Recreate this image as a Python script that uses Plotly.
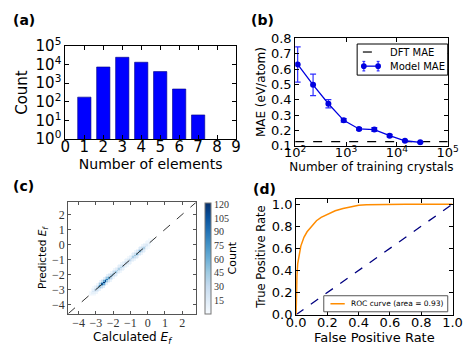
import plotly.graph_objects as go

W, H = 474, 350

# ---------------- data ----------------
# (a) histogram of number of elements
n_elements = [1, 2, 3, 4, 5, 6, 7]
element_counts = [180, 7400, 24500, 13300, 4200, 490, 20]
a_xticks = [0, 1, 2, 3, 4, 5, 6, 7, 8, 9]
a_ytick_vals = [1, 10, 100, 1000, 10000, 100000]
a_ytick_text = ["10<sup>0</sup>", "10<sup>1</sup>", "10<sup>2</sup>", "10<sup>3</sup>", "10<sup>4</sup>", "10<sup>5</sup>"]

# (b) learning curve
train_sizes = [112, 225, 450, 900, 1800, 3600, 7200, 14400, 28800]
model_mae = [0.63, 0.497, 0.374, 0.266, 0.21, 0.206, 0.166, 0.133, 0.123]
model_mae_err = [0.115, 0.07, 0.027, 0.012, 0.008, 0.012, 0.008, 0.005, 0.004]
dft_mae = 0.127
b_xlim = [100, 100000]
b_xtick_vals = [100, 1000, 10000, 100000]
b_xtick_text = ["10<sup>2</sup>", "10<sup>3</sup>", "10<sup>4</sup>", "10<sup>5</sup>"]
b_yticks = [0.1, 0.2, 0.3, 0.4, 0.5, 0.6, 0.7, 0.8]
b_legend_labels = ["DFT MAE", "Model MAE"]

# (c) parity 2D histogram (bin centres along the diagonal, width 0.1)
c_bins = [-3.35, -3.25, -3.15, -3.05, -2.95, -2.85, -2.75, -2.65, -2.55, -2.45,
          -2.35, -2.25, -2.15, -2.05, -1.95, -1.85, -1.75, -1.65, -1.55, -1.45,
          -1.35, -1.25, -1.15, -1.05, -0.95, -0.85, -0.75, -0.65, -0.55, -0.45,
          -0.35, -0.25, -0.15, -0.05, 0.05, 0.15, 0.25, 0.35]
c_diag = [5, 10, 18, 30, 45, 60, 80, 100, 120, 110, 85, 70, 60, 55, 50, 45, 42, 40, 38, 35,
          32, 30, 30, 32, 35, 40, 48, 55, 60, 58, 50, 40, 28, 18, 10, 5, 2, 1]
c_off1 = [3, 6, 10, 17, 25, 33, 44, 55, 62, 58, 47, 39, 33, 30, 28, 25, 23, 22, 21, 19,
          18, 17, 17, 18, 19, 22, 26, 30, 33, 32, 28, 22, 15, 10, 6, 3, 1, 0]
c_off2 = [1, 3, 5, 9, 13, 17, 23, 28, 32, 30, 25, 20, 17, 16, 15, 13, 12, 12, 11, 10,
          10, 9, 9, 10, 10, 12, 14, 16, 18, 17, 15, 12, 8, 5, 3, 1, 0, 0]
c_off3 = [0, 1, 2, 3, 5, 6, 8, 10, 12, 11, 9, 7, 6, 6, 5, 5, 5, 4, 4, 4,
          4, 3, 3, 4, 4, 5, 5, 6, 7, 6, 6, 5, 3, 2, 1, 0, 0, 0]
c_lim = [-4.6, 2.8]
c_ticks = [-4, -3, -2, -1, 0, 1, 2]
c_cbar_ticks = [15, 30, 45, 60, 75, 90, 105, 120]

# (d) ROC curve
fpr = [0.0, 0.002, 0.005, 0.01, 0.02, 0.03, 0.05, 0.07, 0.1, 0.13, 0.16, 0.2, 0.25, 0.3,
       0.35, 0.4, 0.45, 0.5, 0.6, 0.7, 0.8, 0.9, 1.0]
tpr = [0.0, 0.2, 0.35, 0.46, 0.55, 0.62, 0.7, 0.75, 0.8, 0.85, 0.88, 0.91, 0.94, 0.96,
       0.975, 0.99, 0.995, 0.997, 0.998, 0.999, 1.0, 1.0, 1.0]
chance = [0.0, 1.0]
d_ticks = [0.0, 0.2, 0.4, 0.6, 0.8, 1.0]
d_legend_label = "ROC curve (area = 0.93)"

# ---------------- layout helpers ----------------
def px_x(p):
    return p / W

def px_y(p):
    return 1 - p / H

SANS = "DejaVu Sans"
SERIF = "Liberation Serif"
BLUE = "#0000e0"
ORANGE = "darkorange"

fig = go.Figure()

# (a)
fig.add_trace(go.Bar(x=n_elements, y=element_counts, width=0.7,
                     marker=dict(color="#0000ff", line=dict(color="#000080", width=0.6)),
                     showlegend=False, xaxis="x", yaxis="y"))

# (b)
fig.add_trace(go.Scatter(x=b_xlim, y=[dft_mae, dft_mae], mode="lines", name=b_legend_labels[0],
                         line=dict(color="black", dash="dash", width=1.2), showlegend=False,
                         xaxis="x2", yaxis="y2"))
fig.add_trace(go.Scatter(x=train_sizes, y=model_mae, mode="lines+markers", name=b_legend_labels[1],
                         line=dict(color=BLUE, width=1.3),
                         marker=dict(color=BLUE, size=6), showlegend=False,
                         error_y=dict(type="data", array=model_mae_err, color="#3030ff",
                                      thickness=1.2, width=3),
                         xaxis="x2", yaxis="y2"))

# (c)
nb = len(c_bins)
z = [[None] * nb for _ in range(nb)]
for i in range(nb):
    z[i][i] = c_diag[i]
    for off, vals in ((1, c_off1), (2, c_off2), (3, c_off3)):
        for j in (i - off, i + off):
            if 0 <= j < nb and vals[i] > 0:
                z[j][i] = vals[i] if z[j][i] is None else max(z[j][i], vals[i])
fig.add_trace(go.Heatmap(x=c_bins, y=c_bins, z=z, zmin=0, zmax=122, colorscale="Blues",
                         xaxis="x3", yaxis="y3", hoverongaps=False,
                         colorbar=dict(x=px_x(203), xanchor="left", xpad=0,
                                       y=px_y(321), yanchor="bottom", ypad=0,
                                       len=118 / H, lenmode="fraction", thickness=6,
                                       outlinecolor="#777", outlinewidth=1,
                                       tickvals=c_cbar_ticks, ticks="",
                                       tickfont=dict(family=SERIF, size=10, color="#333"),
                                       title=dict(text="Count", side="right",
                                                  font=dict(family=SANS, size=11, color="black")))))
fig.add_trace(go.Scatter(x=c_lim, y=c_lim, mode="lines", showlegend=False,
                         line=dict(color="#333", dash="dash", width=1),
                         xaxis="x3", yaxis="y3"))

# (d)
fig.add_trace(go.Scatter(x=chance, y=chance, mode="lines", showlegend=False,
                         line=dict(color="navy", dash="dash", width=1.3),
                         xaxis="x4", yaxis="y4"))
fig.add_trace(go.Scatter(x=fpr, y=tpr, mode="lines", name=d_legend_label, showlegend=False,
                         line=dict(color=ORANGE, width=1.5),
                         xaxis="x4", yaxis="y4"))

# ---------------- legend boxes (drawn in paper coordinates) ----------------
def pline(x0, y0, x1, y1, color, width=1.2, dash="solid"):
    return dict(type="line", xref="paper", yref="paper",
                x0=px_x(x0), y0=px_y(y0), x1=px_x(x1), y1=px_y(y1),
                line=dict(color=color, width=width, dash=dash))

def prect(x0, y0, x1, y1, color="black"):
    return dict(type="rect", xref="paper", yref="paper",
                x0=px_x(x0), y0=px_y(y0), x1=px_x(x1), y1=px_y(y1),
                fillcolor="white", line=dict(color=color, width=1))

def pcircle(cx, cy, r, color):
    return dict(type="circle", xref="paper", yref="paper",
                x0=px_x(cx - r), y0=px_y(cy + r), x1=px_x(cx + r), y1=px_y(cy - r),
                fillcolor=color, line=dict(color=color, width=0))

shapes = [
    # legend (b)
    prect(363, 35, 458, 68),
    pline(369, 43.5, 386, 43.5, "black", 1.2, "dash"),
    pline(370, 58.5, 385, 58.5, BLUE, 1.3),
    pline(370, 53.5, 370, 63.5, "#3030ff", 1.2),
    pline(385, 53.5, 385, 63.5, "#3030ff", 1.2),
    pline(368.5, 53.5, 371.5, 53.5, "#3030ff", 1.2),
    pline(368.5, 63.5, 371.5, 63.5, "#3030ff", 1.2),
    pline(383.5, 53.5, 386.5, 53.5, "#3030ff", 1.2),
    pline(383.5, 63.5, 386.5, 63.5, "#3030ff", 1.2),
    pcircle(370, 58.5, 3, BLUE),
    pcircle(385, 58.5, 3, BLUE),
    # legend (d)
    prect(328, 302, 458, 319, "#555"),
    pline(335, 310.5, 350, 310.5, ORANGE, 1.5),
]

def ptext(text, x, y, size, anchor="left", bold=False, family=SANS):
    return dict(text=("<b>%s</b>" % text) if bold else text, x=px_x(x), y=px_y(y),
                xref="paper", yref="paper", xanchor=anchor, yanchor="middle",
                showarrow=False, font=dict(size=size, family=family, color="black"))

annotations = [
    ptext("(a)", 0, 10, 14, bold=True),
    ptext("(b)", 250, 10, 14, bold=True),
    ptext("(c)", 0, 186, 14, bold=True),
    ptext("(d)", 252, 189, 14, bold=True),
    ptext(b_legend_labels[0], 395, 43.5, 10),
    ptext(b_legend_labels[1], 395, 58.5, 10),
    ptext(d_legend_label, 354, 310.5, 7.5),
]

axis_common = dict(showline=True, linecolor="black", linewidth=1, mirror="ticks",
                   ticks="inside", ticklen=4, tickcolor="black", showgrid=False,
                   zeroline=False)
frame_c = dict(showline=True, linecolor="#555", linewidth=1, mirror="ticks",
               ticks="inside", ticklen=3, tickcolor="#555", showgrid=False, zeroline=False)

c_ticktext = ["\u2212" + str(-t) if t < 0 else str(t) for t in c_ticks]

fig.update_layout(
    width=W, height=H, margin=dict(l=0, r=0, t=0, b=0),
    paper_bgcolor="white", plot_bgcolor="white", showlegend=False,
    font=dict(family=SANS, color="black"),
    xaxis=dict(domain=[px_x(57), px_x(236)], anchor="y", range=[0, 9],
               tickvals=a_xticks, tickfont=dict(size=15), ticklabelstandoff=-6,
               title=dict(text="Number of elements", font=dict(size=14), standoff=2),
               **axis_common),
    yaxis=dict(domain=[px_y(136), px_y(37)], anchor="x", type="log", range=[0, 5],
               tickvals=a_ytick_vals, ticktext=a_ytick_text, tickfont=dict(size=15),
               title=dict(text="Count", font=dict(size=15), standoff=4),
               **axis_common),
    xaxis2=dict(domain=[px_x(298), px_x(458)], anchor="y2", type="log", range=[2, 5],
                tickvals=b_xtick_vals, ticktext=b_xtick_text, tickfont=dict(size=13),
                ticklabelstandoff=-5,
                title=dict(text="Number of training crystals", font=dict(size=12), standoff=0),
                **axis_common),
    yaxis2=dict(domain=[px_y(143), px_y(29)], anchor="x2", range=[0.1, 0.8],
                tickvals=b_yticks, tickformat=".1f", tickfont=dict(size=13),
                title=dict(text="MAE (eV/atom)", font=dict(size=12), standoff=2),
                **axis_common),
    xaxis3=dict(domain=[px_x(60), px_x(194)], anchor="y3", range=c_lim,
                tickvals=c_ticks, ticktext=c_ticktext,
                tickfont=dict(family=SERIF, size=12, color="#333"), ticklabelstandoff=-2,
                title=dict(text="Calculated <i>E<sub>f</sub></i>", font=dict(size=12), standoff=0),
                **frame_c),
    yaxis3=dict(domain=[px_y(321), px_y(203)], anchor="x3", range=c_lim,
                tickvals=c_ticks, ticktext=c_ticktext,
                tickfont=dict(family=SERIF, size=12, color="#333"),
                title=dict(text="Predicted <i>E<sub>f</sub></i>", font=dict(size=10.5), standoff=3),
                **frame_c),
    xaxis4=dict(domain=[px_x(299), px_x(463)], anchor="y4", range=[0, 1],
                tickvals=d_ticks, tickformat=".1f", tickfont=dict(size=13),
                ticklabelstandoff=-4,
                title=dict(text="False Positive Rate", font=dict(size=13), standoff=0),
                **axis_common),
    yaxis4=dict(domain=[px_y(322), px_y(199)], anchor="x4", range=[0, 1.05],
                tickvals=d_ticks, tickformat=".1f", tickfont=dict(size=13),
                title=dict(text="True Positive Rate", font=dict(size=11.5), standoff=3),
                **axis_common),
    shapes=shapes,
    annotations=annotations,
)

fig.write_html("out.html")
